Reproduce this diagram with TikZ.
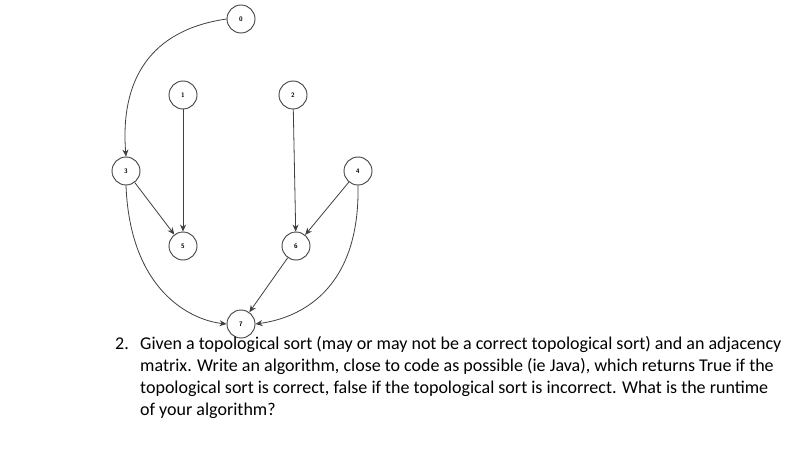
\documentclass[tikz,border=0pt]{standalone}
\usepackage{fontspec}
\setmainfont{Carlito}
\usetikzlibrary{arrows.meta}
\begin{document}
\begin{tikzpicture}[x=1pt,y=-1pt,
  vert/.style={circle,draw=black!75,line width=0.9pt,minimum size=28pt,inner sep=0pt,font=\sffamily\fontsize{6.5}{6.5}\selectfont\bfseries},
  edge/.style={draw=black!75,line width=0.8pt,-{Stealth[length=7pt,width=6pt]}},
  txt/.style={anchor=base west,inner sep=0pt,font=\fontsize{18}{21}\selectfont}]
\useasboundingbox[fill=white] (0,0) rectangle (810,449);
\node[vert] (n0) at (241,19) {0};
\node[vert] (n1) at (183,95) {1};
\node[vert] (n2) at (293,95) {2};
\node[vert] (n3) at (126,171) {3};
\node[vert] (n4) at (358,171) {4};
\node[vert] (n5) at (183,246) {5};
\node[vert] (n6) at (296,246) {6};
\node[vert] (n7) at (241,324) {7};
\draw[edge] (n0.west) .. controls (150,30) and (120,80) .. (n3.north);
\draw[edge] (n1) -- (n5);
\draw[edge] (n2) -- (n6);
\draw[edge] (n3) -- (n5);
\draw[edge] (n4) -- (n6);
\draw[edge] (n6) -- (n7);
\draw[edge] (n3.south) .. controls (130,290) and (190,320) .. (n7.west);
\draw[edge] (n4.south) .. controls (360,290) and (300,318) .. (n7.east);
\node[txt] (num) at (115,349) {2.};
\node[txt] (l1) at (140,349) {Given a topological sort (may or may not be a correct topological sort) and an adjacency};
\node[txt] (l2) at (140,371) {matrix. Write an algorithm, close to code as possible (ie Java), which returns True if the};
\node[txt] (l3) at (140,393) {topological sort is correct, false if the topological sort is incorrect. What is the runtime};
\node[txt] (l4) at (140,415) {of your algorithm?};
\end{tikzpicture}
\end{document}
